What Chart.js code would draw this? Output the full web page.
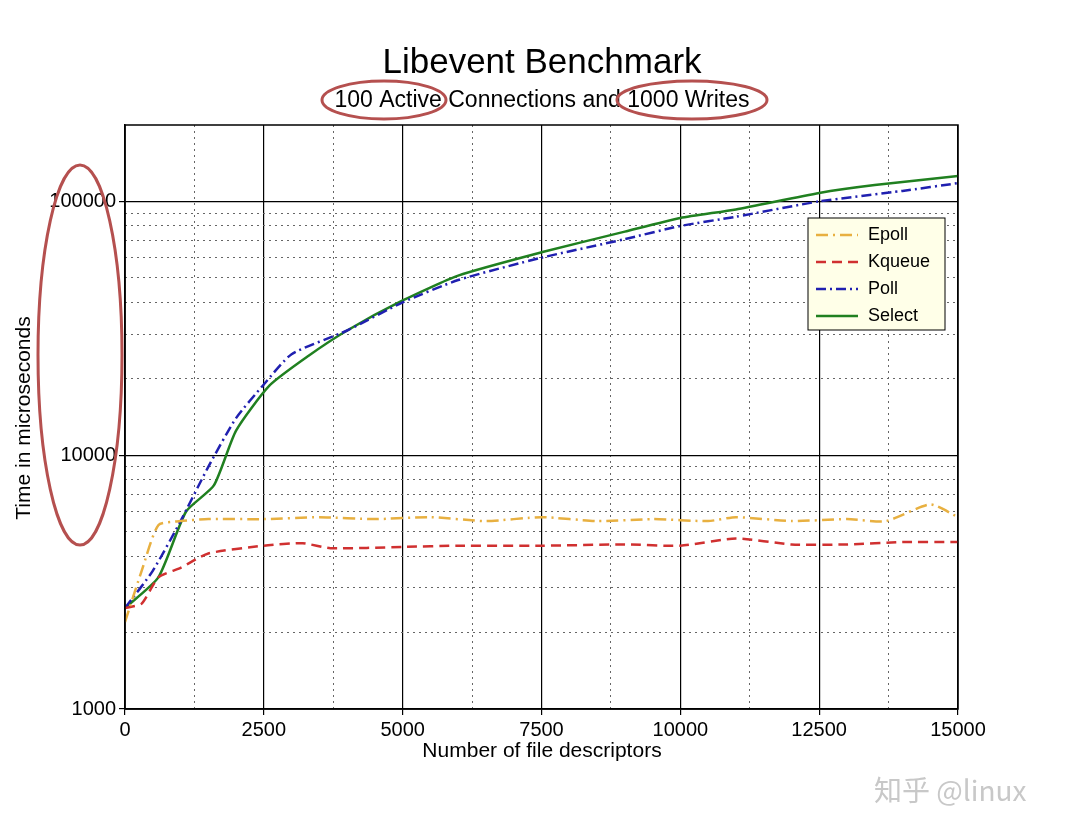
<!DOCTYPE html>
<html><head><meta charset="utf-8">
<script src="https://cdn.jsdelivr.net/npm/chart.js@4/dist/chart.umd.min.js"></script>
<style>html,body{margin:0;padding:0;background:#fff}#wrap{width:1080px;height:834px;position:relative}</style>
</head><body><div id="wrap"><canvas id="c" width="1080" height="834"></canvas></div>
<script>
const title = "Libevent Benchmark";
const subtitle = "100 Active Connections and 1000 Writes";
const xLabel = "Number of file descriptors";
const yLabel = "Time in microseconds";
const seriesNames = ["Epoll", "Kqueue", "Poll", "Select"];
const epollX = [0,300,600,1000,1500,2500,3500,4500,5500,6500,7500,8500,9500,10500,11000,12000,13000,13700,14500,15000];
const epollY = [2200,3500,5300,5500,5600,5600,5700,5600,5700,5500,5700,5500,5600,5500,5700,5500,5600,5500,6400,5700];
const kqueueX = [0,300,600,1000,1500,2500,3200,3700,5000,6000,7500,9000,10000,11000,12000,13000,14000,15000];
const kqueueY = [2500,2600,3300,3600,4100,4400,4500,4300,4350,4400,4400,4450,4400,4700,4450,4450,4550,4550];
const pollX = [0,500,1000,1500,2000,2500,3000,4000,5000,6000,7500,9000,10000,11000,12500,14000,15000];
const pollY = [2500,3500,5500,9000,14000,19000,25000,31000,40000,49000,60000,71000,80000,87000,100000,110000,118000];
const selectX = [0,600,1100,1600,2000,2600,3300,4000,5000,6000,7500,9000,10000,11000,12500,13500,15000];
const selectY = [2500,3300,6000,7600,12500,18800,24600,31000,40700,51000,63000,76000,86000,93000,108000,116000,126000];
const majorYTicks = [1000,10000,100000];
const minorYTicks = [2000,3000,4000,5000,6000,7000,8000,9000,20000,30000,40000,50000,60000,70000,80000,90000];
const majorXTicks = [0,2500,5000,7500,10000,12500,15000];
const minorXTicks = [1250,3750,6250,8750,11250,13750];

const pts=(xs,ys)=>xs.map((x,i)=>({x,y:ys[i]}));
const colors=["#e8b040","#d03030","#2020b0","#208020"];
const dashes=[[12,5,2,5],[10,6],[10,4,2,4],[]];
const datas=[pts(epollX,epollY),pts(kqueueX,kqueueY),pts(pollX,pollY),pts(selectX,selectY)];
const F="'Liberation Sans', Arial, sans-serif";

const deco={id:'deco',afterDraw(ch){
  const c=ch.ctx,a=ch.chartArea;c.save();
  c.strokeStyle='#000';c.lineWidth=1.5;c.strokeRect(a.left,a.top,a.right-a.left,a.bottom-a.top);
  c.fillStyle='#000';c.textAlign='center';c.textBaseline='middle';
  c.font="35px "+F;c.fillText(title,542,63);
  c.font="23px "+F;c.fillText(subtitle,542,101);
  c.font="21px "+F;c.fillText(xLabel,542,751);
  c.save();c.translate(24,418);c.rotate(-Math.PI/2);c.fillText(yLabel,0,0);c.restore();
  c.strokeStyle='#b5504f';c.lineWidth=3;
  [[80,355,42,190],[384,100,62,19],[692,100,75,19]].forEach(([x,y,rx,ry])=>{c.beginPath();c.ellipse(x,y,rx,ry,0,0,Math.PI*2);c.stroke();});
  const lx=808,ly=218;
  c.fillStyle='#ffffe8';c.fillRect(lx,ly,137,112);c.strokeStyle='#000';c.lineWidth=1;c.strokeRect(lx,ly,137,112);
  c.font="18px "+F;c.textAlign='left';
  seriesNames.forEach((n,i)=>{const y=ly+17+i*27;c.strokeStyle=colors[i];c.lineWidth=2.5;c.setLineDash(dashes[i]);
    c.beginPath();c.moveTo(lx+8,y);c.lineTo(lx+50,y);c.stroke();c.setLineDash([]);c.fillStyle='#000';c.fillText(n,lx+60,y);});
  c.fillStyle='#c8c8c8';c.font="28px 'Noto Sans CJK SC', sans-serif";c.textAlign='left';c.fillText("知乎 @linux",874,790);
  c.restore();}};

new Chart(document.getElementById('c'),{
  type:'line',
  data:{datasets:seriesNames.map((n,i)=>({label:n,data:datas[i],borderColor:colors[i],borderWidth:2.5,borderDash:dashes[i],pointRadius:0,tension:0.2,fill:false}))},
  options:{responsive:false,animation:false,
    layout:{padding:{top:125,right:122,left:0,bottom:0}},
    plugins:{legend:{display:false},tooltip:{enabled:false}},
    scales:{
      x:{type:'linear',min:0,max:15000,
        afterBuildTicks:s=>{s.ticks=majorXTicks.map(v=>({value:v}));},
        ticks:{font:{size:20,family:F},color:'#000',maxRotation:0,callback:v=>String(v)},
        grid:{color:'#000',lineWidth:1.2,tickLength:6},border:{color:'#000',width:1.5},
        afterFit:s=>{s.height=125;}},
      x2:{type:'linear',min:0,max:15000,position:'bottom',
        afterBuildTicks:s=>{s.ticks=minorXTicks.map(v=>({value:v}));},
        ticks:{display:false},grid:{color:'#666',lineWidth:1,drawTicks:false},border:{display:false,dash:[2,4]},
        afterFit:s=>{s.height=0;}},
      y:{type:'logarithmic',min:1000,max:200000,
        afterBuildTicks:s=>{s.ticks=majorYTicks.map(v=>({value:v}));},
        ticks:{font:{size:20,family:F},color:'#000',callback:v=>String(v)},
        grid:{color:'#000',lineWidth:1.2,tickLength:6},border:{color:'#000',width:1.5},
        afterFit:s=>{s.width=125;}},
      y2:{type:'logarithmic',min:1000,max:200000,position:'left',
        afterBuildTicks:s=>{s.ticks=minorYTicks.map(v=>({value:v}));},
        ticks:{display:false},grid:{color:'#666',lineWidth:1,drawTicks:false},border:{display:false,dash:[2,4]},
        afterFit:s=>{s.width=0;}}
    }},
  plugins:[deco]
});
</script></body></html>
